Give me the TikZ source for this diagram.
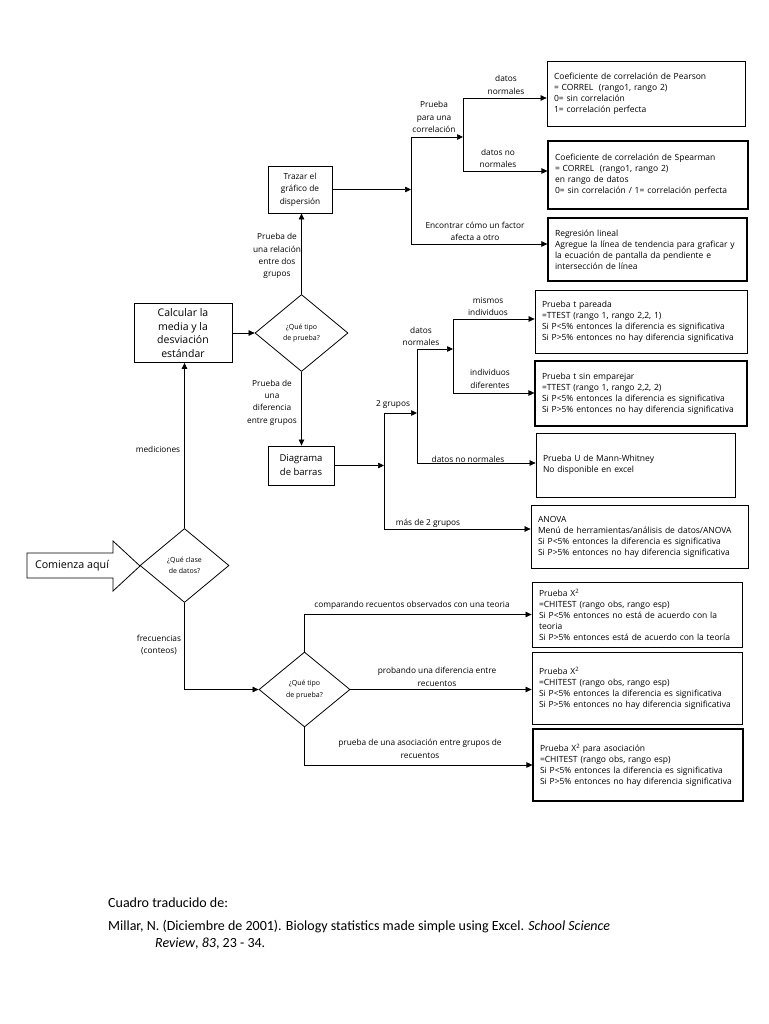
\documentclass[tikz,border=0pt]{standalone}
\usepackage{fontspec}
\setmainfont{Open Sans}
\newfontfamily\citefont{Carlito}
\usetikzlibrary{shapes.geometric,arrows.meta}
\tikzset{
  resbox/.style={draw,line width=0.8pt,align=left,inner xsep=7pt,inner ysep=2pt,font=\fontsize{8.5}{11}\selectfont},
  stepbox/.style={draw,line width=0.8pt,align=center,inner sep=2pt},
  ask/.style={draw,diamond,inner sep=0pt,line width=0.8pt,align=center,font=\fontsize{7}{11.5}\selectfont},
  lbl/.style={align=center,inner sep=0pt,font=\fontsize{8.3}{12.3}\selectfont},
  flow/.style={line width=0.7pt,-{Triangle[length=6pt,width=5.5pt]}},
  line/.style={line width=0.7pt}
}
\begin{document}
\begin{tikzpicture}[x=1pt,y=-1pt]
\useasboundingbox (0,0) rectangle (768,1024);

\node[stepbox,minimum width=64pt,minimum height=47pt,font=\fontsize{8.3}{12.5}\selectfont] (trazar) at (300,189.5) {Trazar el\\gráfico de\\dispersión};
\node[stepbox,minimum width=98pt,minimum height=59pt,font=\fontsize{10.5}{13.7}\selectfont] (calcular) at (183,333) {Calcular la\\media y la\\desviación\\estándar};
\node[ask,minimum width=93pt,minimum height=77pt] (tipoA) at (301.5,333) {¿Qué tipo\\de prueba?};
\node[stepbox,minimum width=66pt,minimum height=39pt,font=\fontsize{9.5}{14}\selectfont] (diagrama) at (301,465.5) {Diagrama\\de barras};
\node[ask,minimum width=89pt,minimum height=74pt] (clase) at (184.5,565.5) {¿Qué clase\\de datos?};
\node[ask,minimum width=91pt,minimum height=75pt] (tipoB) at (304.5,689.5) {¿Qué tipo\\de prueba?};

\draw[line width=0.8pt] (27,553) -- (113,553) -- (113,541) -- (140,566) -- (113,591) -- (113,578) -- (27,578) -- cycle;
\node[font=\fontsize{10.7}{13}\selectfont] (comienza) at (72,565.5) {Comienza aquí};

\node[resbox,text width=184pt,minimum height=65pt] (pearson) at (646,93.5) {Coeficiente de correlación de Pearson\\= CORREL~ (rango1, rango 2)\\0= sin correlación\\1= correlación perfecta};
\node[resbox,text width=186pt,minimum height=68pt,line width=1.1pt] (spearman) at (648,175) {Coeficiente de correlación de Spearman\\= CORREL~ (rango1, rango 2)\\en rango de datos\\0= sin correlación / 1= correlación perfecta};
\node[resbox,text width=185pt,minimum height=63pt,line width=1.3pt] (regresion) at (647.5,249.5) {Regresión lineal\\Agregue la línea de tendencia para graficar y\\la ecuación de pantalla da pendiente e\\intersección de línea};
\node[resbox,text width=198pt,minimum height=63pt] (pareada) at (641,321.5) {Prueba t pareada\\=TTEST (rango 1, rango 2,2, 1)\\Si P<5\% entonces la diferencia es significativa\\Si P>5\% entonces no hay diferencia significativa};
\node[resbox,text width=198pt,minimum height=65pt,line width=1.1pt] (sinemp) at (641,393.5) {Prueba t sin emparejar\\=TTEST (rango 1, rango 2,2, 2)\\Si P<5\% entonces la diferencia es significativa\\Si P>5\% entonces no hay diferencia significativa};
\node[resbox,text width=185pt,minimum height=64pt] (mann) at (635.5,465) {Prueba U de Mann-Whitney\\No disponible en excel};
\node[resbox,text width=203pt,minimum height=63pt] (anova) at (639.5,536.5) {ANOVA\\Menú de herramientas/análisis de datos/ANOVA\\Si P<5\% entonces la diferencia es significativa\\Si P>5\% entonces no hay diferencia significativa};
\node[resbox,text width=196pt,minimum height=65pt] (chione) at (637,614.5) {Prueba X\textsuperscript{2}\\=CHITEST (rango obs, rango esp)\\Si P<5\% entonces no está de acuerdo con la\\teoria\\Si P>5\% entonces está de acuerdo con la teoría};
\node[resbox,text width=196pt,minimum height=72pt] (chitwo) at (637,688) {Prueba X\textsuperscript{2}\\=CHITEST (rango obs, rango esp)\\Si P<5\% entonces la diferencia es significativa\\Si P>5\% entonces no hay diferencia significativa};
\node[resbox,text width=196pt,minimum height=72pt,line width=1.1pt] (chithree) at (638,765) {Prueba X\textsuperscript{2} para asociación\\=CHITEST (rango obs, rango esp)\\Si P<5\% entonces la diferencia es significativa\\Si P>5\% entonces no hay diferencia significativa};

\draw[flow] (clase.north) -- (clase.north |- calcular.south);
\draw[flow] (calcular.east) -- (tipoA.west);
\draw[flow] (tipoA.north) -- (tipoA.north |- trazar.south);
\draw[flow] (tipoA.south) -- (tipoA.south |- diagrama.north);
\draw[flow] (clase.south) |- (tipoB.west);

\coordinate (corr) at (411,137);
\coordinate (fact) at (411,244);
\coordinate (norm) at (463,98);
\coordinate (nonorm) at (463,171);
\draw[line] (corr) -- (fact);
\draw[flow] (trazar.east) -- (trazar.east -| corr);
\draw[flow] (corr) -- (corr -| norm);
\draw[line] (norm) -- (nonorm);
\draw[flow] (norm) -- (norm -| pearson.west);
\draw[flow] (nonorm) -- (nonorm -| spearman.west);
\draw[flow] (fact) -- (fact -| regresion.west);

\coordinate (dos) at (384,413);
\coordinate (mas) at (384,529);
\coordinate (normal) at (417,349);
\coordinate (nonormal) at (417,463);
\coordinate (mismos) at (453,319);
\coordinate (difer) at (453,393);
\draw[line] (dos) -- (mas);
\draw[flow] (diagrama.east) -- (diagrama.east -| dos);
\draw[flow] (dos) -- (dos -| normal);
\draw[line] (normal) -- (nonormal);
\draw[flow] (normal) -- (normal -| mismos);
\draw[line] (mismos) -- (difer);
\draw[flow] (mismos) -- (mismos -| pareada.west);
\draw[flow] (difer) -- (difer -| sinemp.west);
\draw[flow] (nonormal) -- (nonormal -| mann.west);
\draw[flow] (mas) -- (mas -| anova.west);

\draw[flow] (tipoB.north) |- (chione.west);
\draw[flow] (tipoB.east) -- (tipoB.east -| chitwo.west);
\draw[flow] (tipoB.south) |- (chithree.west);

\node[lbl] (lblmed) at (158,449) {mediciones};
\node[lbl] (lblfrec) at (159,645) {frecuencias\\(conteos)};
\node[lbl] (lblrel) at (277,256) {Prueba de\\una relación\\entre dos\\grupos};
\node[lbl] (lbldif) at (272,402.5) {Prueba de\\una\\diferencia\\entre grupos};
\node[lbl] (lblcorr) at (434,117) {Prueba\\para una\\correlación};
\node[lbl] (lblnorm) at (506,85) {datos\\normales};
\node[lbl] (lblnonorm) at (498,158.5) {datos no\\normales};
\node[lbl] (lblfact) at (475,231.5) {Encontrar cómo un factor\\afecta a otro};
\node[lbl] (lbldos) at (393,404) {2 grupos};
\node[lbl] (lblnormal) at (421,336.5) {datos\\normales};
\node[lbl] (lblmismos) at (488,306.5) {mismos\\individuos};
\node[lbl] (lbldifer) at (490,379) {individuos\\diferentes};
\node[lbl] (lblnonormal) at (468,459) {datos no normales};
\node[lbl] (lblmas) at (428,523) {más de 2 grupos};
\node[lbl] (lblteoria) at (412,605) {comparando recuentos observados con una teoria};
\node[lbl] (lblrecu) at (437,677) {probando una diferencia entre\\recuentos};
\node[lbl] (lblasoc) at (420,749) {prueba de una asociación entre grupos de\\recuentos};

\node[anchor=west,inner sep=0pt,font=\citefont\fontsize{14}{17}\selectfont] (cuadro) at (108,903) {Cuadro traducido de:};
\node[anchor=west,inner sep=0pt,font=\citefont\fontsize{14}{17}\selectfont] (millar) at (108,927) {Millar, N. (Diciembre de 2001). Biology statistics made simple using Excel. \textit{School Science}};
\node[anchor=west,inner sep=0pt,font=\citefont\fontsize{14}{17}\selectfont] (review) at (155,944) {\textit{Review}, \textit{83}, 23 - 34.};
\end{tikzpicture}
\end{document}
